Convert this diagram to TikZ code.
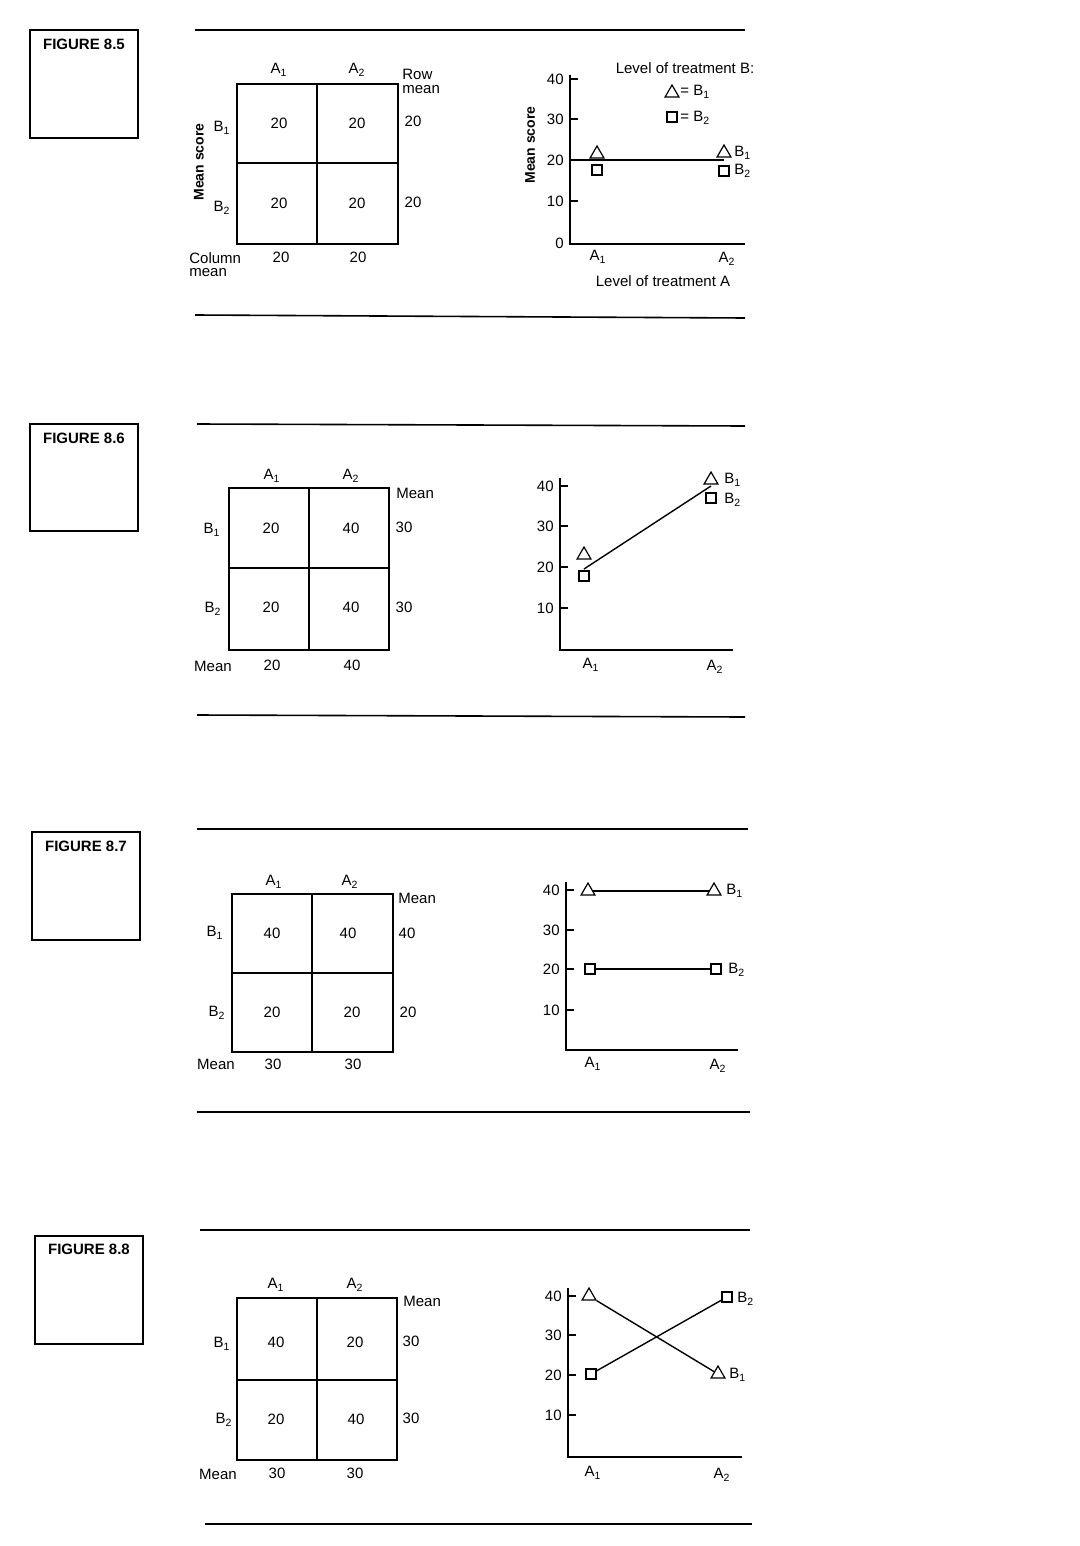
\documentclass[tikz,border=0pt]{standalone}
\usepackage{fontspec}
\setmainfont{Liberation Sans}
\usetikzlibrary{shapes.geometric}
\begin{document}
\begin{tikzpicture}[x=0.5pt,y=-0.5pt,
  every node/.style={font=\fontsize{7.5}{8.5}\selectfont, inner sep=0pt},
  lbl/.style={font=\fontsize{7.5}{8.5}\selectfont\bfseries},
  rule/.style={line width=0.8pt},
  grid/.style={line width=0.9pt},
  ax/.style={line width=0.8pt},
  tri/.style={draw, regular polygon, regular polygon sides=3, minimum size=8pt, inner sep=0pt, line width=0.6pt},
  sq/.style={draw, rectangle, minimum size=5pt, inner sep=0pt, line width=0.6pt},
  dl/.style={line width=0.7pt}]
\useasboundingbox (0,0) rectangle (1080,1546);
\fill[white] (0,0) rectangle (1080,1546);
\newcommand{\yaxis}[4]{% x, ytop, ybottom, xright
  \draw[ax] (#1,#2) -- (#1,#3) -- (#4,#3);}
\newcommand{\ytick}[3]{% x, y, label
  \draw[ax] (#1,#2) -- ++(8,0); \node[anchor=east] at (#1-6,#2) {#3};}

% ===== Figure 8.5 =====
\node[draw, rule, minimum width=54pt, minimum height=54pt] (f5) at (84,84) {};
\node[lbl] at (84,44) {FIGURE 8.5};
\draw[rule] (195,30) -- (745,30);
\draw[rule] (195,315) -- (745,318);
\draw[grid] (237,84) rectangle (398,244); \draw[grid] (317,84)--(317,244); \draw[grid] (237,163)--(398,163);
\node at (279,70) {A\textsubscript{1}}; \node at (357,70) {A\textsubscript{2}};
\node[anchor=west] at (402,74) {Row}; \node[anchor=west] at (402,90) {mean};
\node at (222,128) {B\textsubscript{1}}; \node at (222,208) {B\textsubscript{2}};
\node at (279,123) {20}; \node at (357,123) {20}; \node at (413,121) {20};
\node at (279,203) {20}; \node at (357,203) {20}; \node at (413,202) {20};
\node[anchor=west] at (189,258) {Column}; \node[anchor=west] at (189,273) {mean};
\node at (281,257) {20}; \node at (358,257) {20};
\node[rotate=90,font=\fontsize{7}{8}\selectfont\bfseries] at (199,162) {Mean score};
\yaxis{570}{75}{244}{745}
\ytick{570}{79}{40}\ytick{570}{119}{30}\ytick{570}{160}{20}\ytick{570}{201}{10}
\node[anchor=east] at (564,243) {0};
\node[rotate=90,font=\fontsize{7}{8}\selectfont\bfseries] at (530,145) {Mean score};
\node[tri] (t51) at (597,154) {}; \node[sq] (s51) at (597,170) {};
\node[tri] (t52) at (724,153) {}; \node[sq] (s52) at (724,171) {};
\coordinate (l51) at (578,160); \coordinate (l52) at (724,160);
\draw[dl] (l51) -- (l52);
\node[anchor=west] at (734,153) {B\textsubscript{1}}; \node[anchor=west] at (734,171) {B\textsubscript{2}};
\node at (598,257) {A\textsubscript{1}}; \node at (727,259) {A\textsubscript{2}};
\node at (663,281) {Level of treatment A};
\node at (685,68) {Level of treatment B:};
\node[tri] (lt) at (672,93) {}; \node[anchor=west] at (680,92) {= B\textsubscript{1}};
\node[sq] (ls) at (672,117) {}; \node[anchor=west] at (680,118) {= B\textsubscript{2}};

% ===== Figure 8.6 =====
\node[draw, rule, minimum width=54pt, minimum height=53.5pt] (f6) at (84,477.5) {};
\node[lbl] at (84,438) {FIGURE 8.6};
\draw[rule] (197,424) -- (745,426);
\draw[rule] (197,715) -- (745,717);
\draw[grid] (229,488) rectangle (389,650); \draw[grid] (309,488)--(309,650); \draw[grid] (229,568)--(389,568);
\node at (272,476) {A\textsubscript{1}}; \node at (351,476) {A\textsubscript{2}};
\node[anchor=west] at (396,493) {Mean};
\node at (212,530) {B\textsubscript{1}}; \node at (213,609) {B\textsubscript{2}};
\node at (271,528) {20}; \node at (351,528) {40}; \node at (404,527) {30};
\node at (271,607) {20}; \node at (351,607) {40}; \node at (404,607) {30};
\node at (213,666) {Mean}; \node at (272,665) {20}; \node at (352,665) {40};
\yaxis{560}{478}{650}{733}
\ytick{560}{486}{40}\ytick{560}{526}{30}\ytick{560}{567}{20}\ytick{560}{608}{10}
\node[tri] (t61) at (584,555) {}; \node[sq] (s61) at (584,576) {};
\node[tri] (t62) at (711,480) {}; \node[sq] (s62) at (711,498) {};
\coordinate (l61) at (584,569); \coordinate (l62) at (711,486);
\draw[dl] (l61) -- (l62);
\node[anchor=west] at (724,480) {B\textsubscript{1}}; \node[anchor=west] at (724,500) {B\textsubscript{2}};
\node at (591,665) {A\textsubscript{1}}; \node at (715,667) {A\textsubscript{2}};

% ===== Figure 8.7 =====
\node[draw, rule, minimum width=54pt, minimum height=54pt] (f7) at (86,886) {};
\node[lbl] at (86,846) {FIGURE 8.7};
\draw[rule] (197,829) -- (748,829);
\draw[rule] (197,1112) -- (750,1112);
\draw[grid] (232,894) rectangle (393,1052); \draw[grid] (312,894)--(312,1052); \draw[grid] (232,973)--(393,973);
\node at (274,882) {A\textsubscript{1}}; \node at (350,882) {A\textsubscript{2}};
\node[anchor=west] at (398,898) {Mean};
\node at (215,933) {B\textsubscript{1}}; \node at (217,1013) {B\textsubscript{2}};
\node at (272,933) {40}; \node at (348,933) {40}; \node at (407,933) {40};
\node at (272,1012) {20}; \node at (352,1012) {20}; \node at (408,1012) {20};
\node at (216,1064) {Mean}; \node at (273,1064) {30}; \node at (353,1064) {30};
\yaxis{566}{882}{1050}{738}
\ytick{566}{890}{40}\ytick{566}{930}{30}\ytick{566}{969}{20}\ytick{566}{1010}{10}
\node[tri] (t71) at (588,891) {}; \node[tri] (t72) at (714,891) {};
\node[sq] (s71) at (590,969) {}; \node[sq] (s72) at (716,969) {};
\draw[dl] (t71) -- (t72); \draw[dl] (s71) -- (s72);
\node[anchor=west] at (726,891) {B\textsubscript{1}}; \node[anchor=west] at (728,970) {B\textsubscript{2}};
\node at (593,1064) {A\textsubscript{1}}; \node at (718,1066) {A\textsubscript{2}};

% ===== Figure 8.8 =====
\node[draw, rule, minimum width=54pt, minimum height=54pt] (f8) at (89,1290) {};
\node[lbl] at (89,1249) {FIGURE 8.8};
\draw[rule] (200,1230) -- (750,1230);
\draw[rule] (205,1524) -- (752,1524);
\draw[grid] (237,1298) rectangle (397,1460); \draw[grid] (317,1298)--(317,1460); \draw[grid] (237,1380)--(397,1380);
\node at (276,1285) {A\textsubscript{1}}; \node at (355,1285) {A\textsubscript{2}};
\node[anchor=west] at (403,1301) {Mean};
\node at (222,1344) {B\textsubscript{1}}; \node at (224,1420) {B\textsubscript{2}};
\node at (276,1342) {40}; \node at (355,1342) {20}; \node at (411,1341) {30};
\node at (276,1419) {20}; \node at (356,1419) {40}; \node at (411,1418) {30};
\node at (218,1474) {Mean}; \node at (277,1473) {30}; \node at (355,1473) {30};
\yaxis{568}{1288}{1457}{742}
\ytick{568}{1296}{40}\ytick{568}{1335}{30}\ytick{568}{1375}{20}\ytick{568}{1415}{10}
\node[tri] (t81) at (589,1296) {}; \node[tri] (t82) at (718,1374) {};
\node[sq] (s81) at (591,1374) {}; \node[sq] (s82) at (727,1297) {};
\draw[dl] (t81) -- (t82); \draw[dl] (s81) -- (s82);
\node[anchor=west] at (737,1299) {B\textsubscript{2}}; \node[anchor=west] at (729,1375) {B\textsubscript{1}};
\node at (593,1473) {A\textsubscript{1}}; \node at (722,1475) {A\textsubscript{2}};
\end{tikzpicture}
\end{document}
